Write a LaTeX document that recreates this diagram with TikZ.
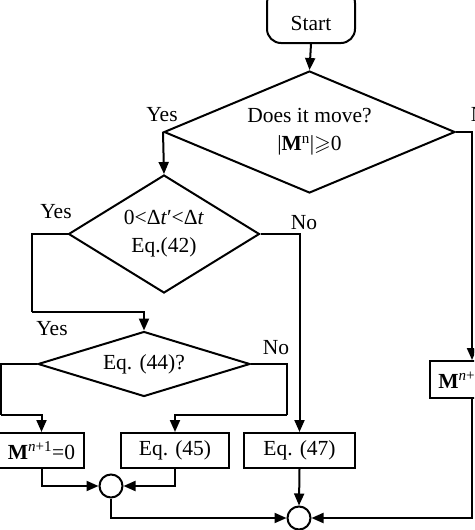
\documentclass[tikz,border=0pt]{standalone}
\usepackage{amssymb}
\usepackage{fontspec}
\setmainfont{Liberation Serif}
\usetikzlibrary{shapes.geometric,arrows.meta}
\tikzset{
  every node/.style={font=\fontsize{21.5pt}{25pt}\selectfont, inner sep=0pt},
  ln/.style={line width=2pt},
  arr/.style={ln, -{Triangle[length=12pt,width=10pt]}},
  decision/.style={draw, ln, diamond, align=center},
  procbox/.style={draw, ln, minimum height=35pt},
  junction/.style={draw, ln, circle, minimum size=23pt},
  startbox/.style={draw, ln, rounded corners=14pt, minimum width=88pt, minimum height=54pt},
}
\begin{document}
\begin{tikzpicture}[x=1pt,y=-1pt]
\useasboundingbox (0,0) rectangle (474,530);
\fill[white] (0,0) rectangle (474,530);
\clip (0,0) rectangle (474,530);

\node[startbox] (start) at (311,16) {};
\node (starttxt) at (311,23) {Start};

\node[decision, minimum width=291pt, minimum height=122pt, shape aspect=2.4] (d1) at (309.5,132)
  {Does it move?\\[3pt]|\textbf{M}\textsuperscript{n}|$\geqslant$0};

\node[decision, minimum width=191pt, minimum height=118pt, shape aspect=1.66] (d2) at (164,234)
  {0<Δ\textit{t}′<Δ\textit{t}\\[3pt]Eq.(42)};

\node[decision, minimum width=212pt, minimum height=65pt, shape aspect=3.2] (d3) at (144,364)
  {Eq. (44)?};

\node[procbox, minimum width=85pt] (m0) at (41.5,450.5) {\textbf{M}\textsuperscript{\textit{n}+1}=0};
\node[procbox, minimum width=108pt] (e45) at (175,450.5) {Eq. (45)};
\node[procbox, minimum width=111pt] (e47) at (299.5,450.5) {Eq. (47)};
\node[procbox, minimum width=84pt, minimum height=37pt] (rbox) at (472,379.5) {\textbf{M}\textsuperscript{\textit{n}+1}=0};

\node[junction] (c1) at (111,486) {};
\node[junction] (c2) at (299,518) {};

\coordinate (k1) at (32,312);
\coordinate (k2) at (1,415);
\coordinate (k3) at (287,415);

\node (yes1) at (162,115) {Yes};
\node (no1) at (484,115) {No};
\node (yes2) at (56,212) {Yes};
\node (no2) at (304,223) {No};
\node (yes3) at (52,329) {Yes};
\node (no3) at (276,348) {No};

\draw[arr] (start.south) -- (d1.north);
\draw[arr] (d1.west) -- (d2.north);
\draw[arr] (d1.east) -| (rbox.north);
\draw[ln] (d2.west) -| (k1);
\draw[arr] (k1) -| (d3.north);
\draw[arr] (d2.east) -| (e47.north);
\draw[ln] (d3.west) -| (k2);
\draw[arr] (k2) -| (m0.north);
\draw[ln] (d3.east) -| (k3);
\draw[arr] (k3) -| (e45.north);
\draw[arr] (m0.south) |- (c1.west);
\draw[arr] (e45.south) |- (c1.east);
\draw[arr] (c1.south) |- (c2.west);
\draw[arr] (e47.south) -- (c2.north);
\draw[arr] (rbox.south) |- (c2.east);
\end{tikzpicture}
\end{document}
